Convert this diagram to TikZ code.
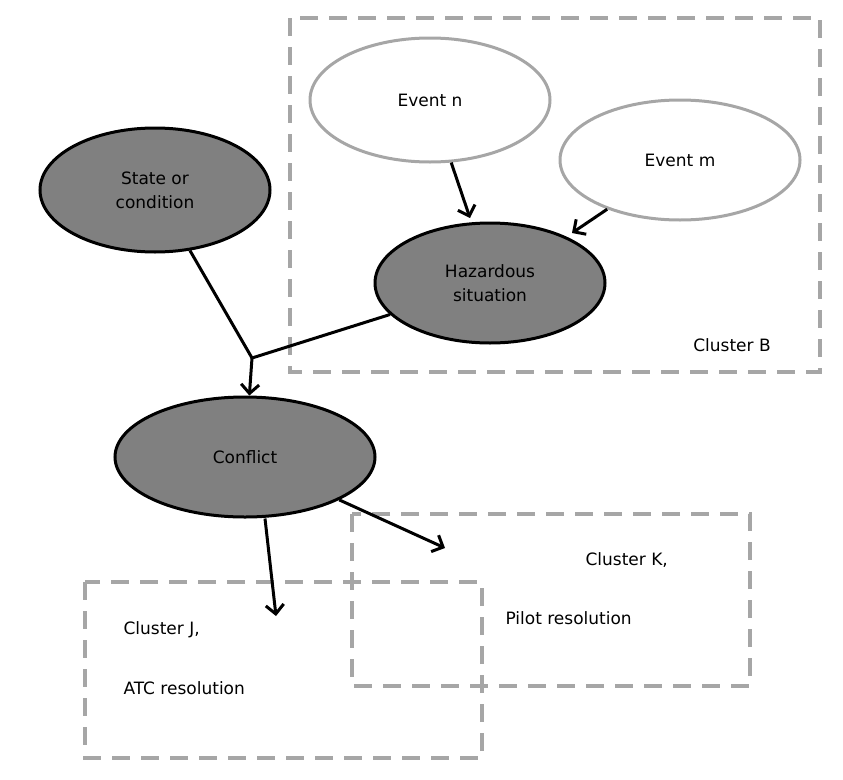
\documentclass[tikz,border=0pt]{standalone}
\usepackage{fontspec}
\setmainfont{DejaVu Sans}
\usetikzlibrary{arrows.meta,shapes.geometric}
\definecolor{dk}{HTML}{808080}
\definecolor{lt}{HTML}{A6A6A6}
\begin{document}
\begin{tikzpicture}[x=1pt,y=-1pt,
  font=\fontsize{17}{24}\selectfont,
  dark/.style={ellipse,draw=black,line width=3pt,fill=dk,align=center,inner sep=0pt},
  light/.style={ellipse,draw=lt,line width=3pt,fill=white,align=center,inner sep=0pt},
  clus/.style={draw=lt,line width=3.5pt,dash pattern=on 18pt off 11pt},
  arr/.style={line width=3pt,-{Straight Barb[length=9pt,width=18pt,line width=3pt]}},
  ln/.style={line width=3pt}]
\useasboundingbox (0,0) rectangle (843,779);
\draw[clus] (290,18) rectangle (820,372);
\draw[clus] (352,514) rectangle (750,686);
\draw[clus] (85,582) rectangle (482,758);
\node[light,minimum width=240pt,minimum height=124pt] (en) at (430,100) {Event n};
\node[light,minimum width=240pt,minimum height=120pt] (em) at (680,160) {Event m};
\node[dark,minimum width=230pt,minimum height=124pt] (st) at (155,190) {State or\\condition};
\node[dark,minimum width=230pt,minimum height=120pt] (hz) at (490,283) {Hazardous\\situation};
\node[dark,minimum width=260pt,minimum height=120pt] (cf) at (245,457) {Conflict};
\node (lb) at (732,345) {Cluster B};
\node[anchor=west] (lk1) at (582,560) {Cluster K,};
\node[anchor=west] (lk2) at (502,618) {Pilot resolution};
\node[anchor=west] (lj1) at (120,630) {Cluster J,};
\node[anchor=west] (lj2) at (120,688) {ATC resolution};
\coordinate (j) at (252,358);
\draw[arr] (en) -- (470,218);
\draw[arr] (em) -- (572,233);
\draw[ln] (st) -- (j);
\draw[ln] (hz) -- (j);
\draw[arr] (j) -- (cf);
\draw[arr] (cf) -- (445,548);
\draw[arr] (cf.south) ++(20,0) -- (276,616);
\end{tikzpicture}
\end{document}
